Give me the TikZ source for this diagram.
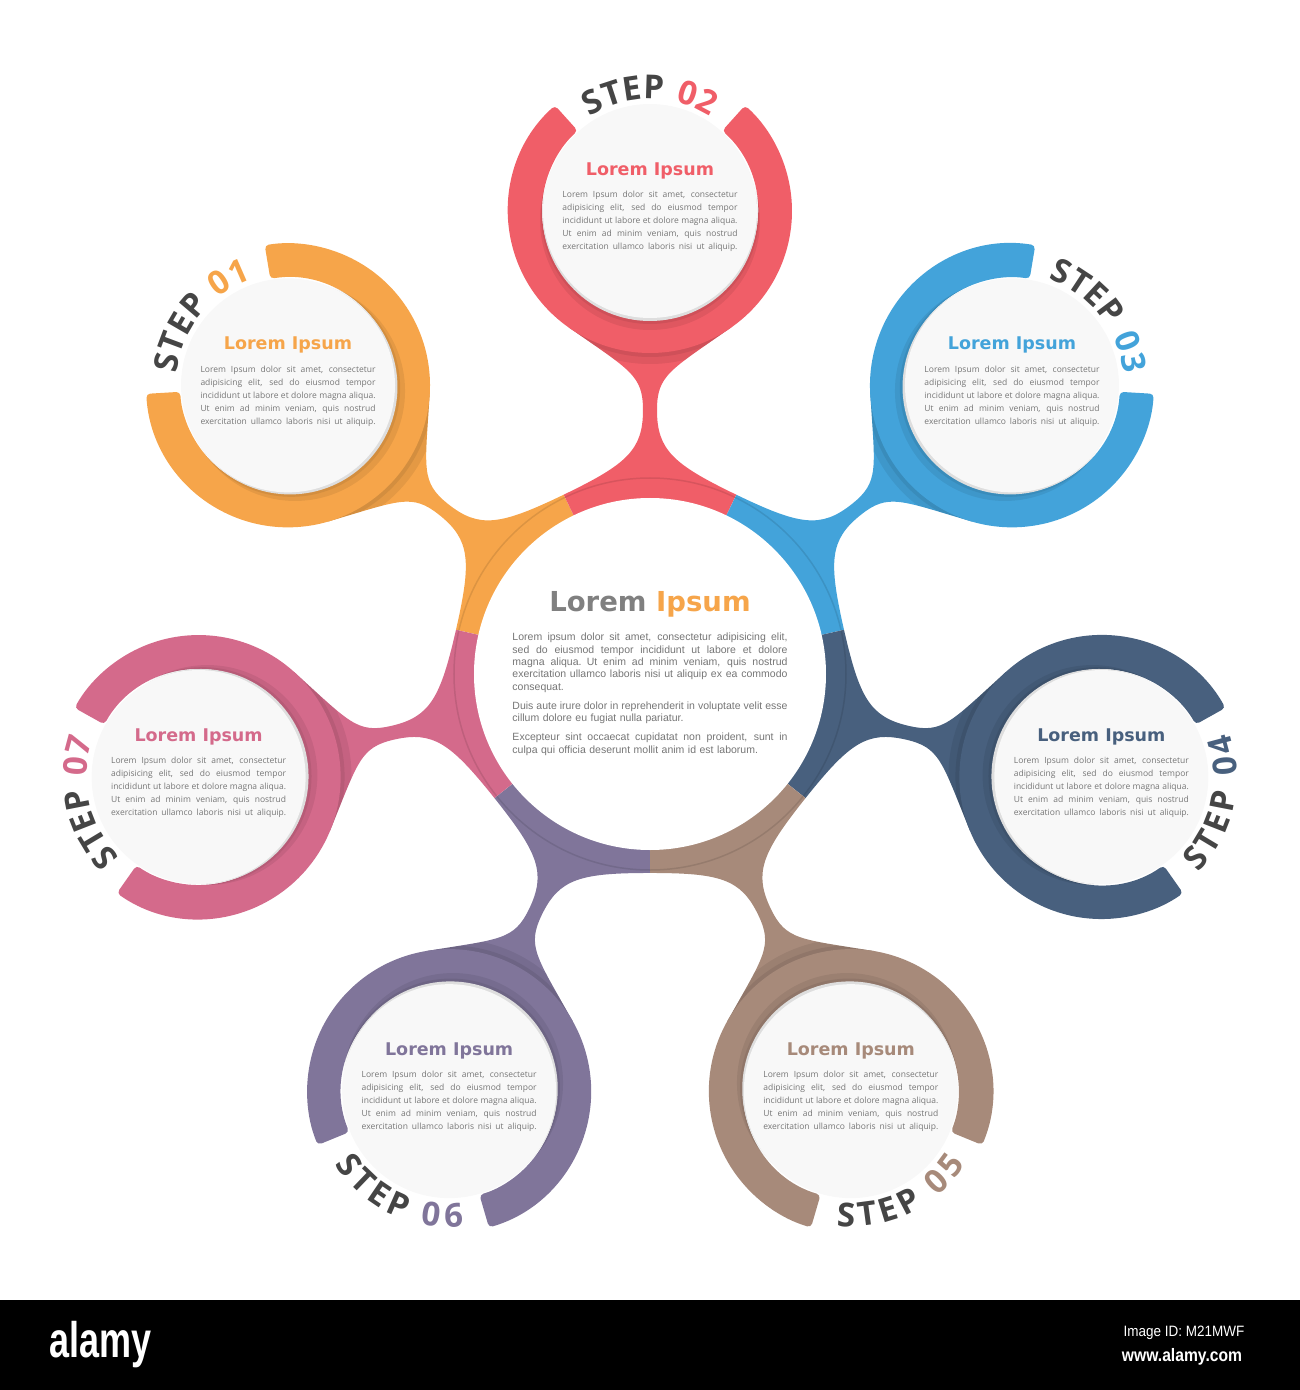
\documentclass[tikz,border=0pt]{standalone}
\usepackage{fontspec}
\newfontfamily\opensans{Open Sans}
\newfontfamily\dejavu{DejaVu Sans}
\newfontfamily\libsans{Liberation Sans}

\definecolor{cOrange}{RGB}{246,165,74}
\definecolor{cRed}{RGB}{240,94,104}
\definecolor{cBlue}{RGB}{67,163,218}
\definecolor{cNavy}{RGB}{72,96,126}
\definecolor{cBrown}{RGB}{167,138,122}
\definecolor{cPurple}{RGB}{128,117,154}
\definecolor{cPink}{RGB}{212,106,139}
\definecolor{stepgray}{RGB}{69,69,69}
\definecolor{bodygray}{RGB}{118,118,118}
\definecolor{hubgray}{RGB}{128,128,128}
\definecolor{diskwhite}{RGB}{248,248,248}

% step number / outward angle / colour / reading direction of the label
\newcommand\steplist{1/141.43/cOrange/1,2/90/cRed/1,3/38.57/cBlue/1,4/-12.86/cNavy/-1,5/-64.29/cBrown/-1,6/-115.71/cPurple/-1,7/-167.14/cPink/1}

% stem from the hub to a satellite, drawn pointing up
\newcommand\stempath{(0,0) -- (86.3,179.3) .. controls (23.2,209.7) and (7,224) .. (7,264) .. controls (7,299) and (20,303.7) .. (81.4,346.7) -- (0,463) -- (-81.4,346.7) .. controls (-20,303.7) and (-7,299) .. (-7,264) .. controls (-7,224) and (-23.2,209.7) .. (-86.3,179.3) -- cycle}
% open ring round a satellite
\newcommand\ringpath{(\a+42:142) arc[start angle=\a+42, end angle=\a+318, radius=142] -- (\a+318:108) arc[start angle=\a+318, end angle=\a+42, radius=108] -- cycle}

% a line spread over the full width
\newcommand\jline[2]{\makebox[#1][s]{\spaceskip=.26em plus 1fil\relax #2}}
\newcommand\satbody{\jline{175pt}{Lorem Ipsum dolor sit amet, consectetur}\\
\jline{175pt}{adipisicing elit, sed do eiusmod tempor}\\
\jline{175pt}{incididunt ut labore et dolore magna aliqua.}\\
\jline{175pt}{Ut enim ad minim veniam, quis nostrud}\\
\jline{175pt}{exercitation ullamco laboris nisi ut aliquip.}}

\begin{document}
\begin{tikzpicture}[x=1pt,y=1pt,
  steptxt/.style={font=\opensans\bfseries\fontsize{33}{33}\selectfont, inner sep=0},
  head/.style={font=\dejavu\bfseries\fontsize{17.5}{19}\selectfont, inner sep=0},
  satbox/.style={font=\opensans\fontsize{8.5}{13}\selectfont, text=bodygray, text width=175pt, align=center, inner sep=0, anchor=north},
  hubbox/.style={font=\libsans\fontsize{10.5}{12.3}\selectfont, text=bodygray, text width=275pt, align=left, inner sep=0, anchor=north},
  disk/.style={circle, inner sep=0, minimum size=#1}]
\useasboundingbox (-650,-716) rectangle (650,674);

% stems
\foreach \n/\a/\col/\dir in \steplist {
  \fill[\col, rotate=\a-90] \stempath;
  \begin{scope}[rotate=\a-90]
    \clip \stempath;
    \fill[black, opacity=.07] (0,456) circle (146);
    \fill[black, opacity=.07] (0,460) circle (143);
  \end{scope}
}

% hub
\node[disk=352pt, fill=white] (hub) at (0,0) {};
\draw[black, opacity=.1, line width=1.5pt] (hub.center) circle (196);
\node[font=\dejavu\bfseries\fontsize{27.5}{30}\selectfont, inner sep=0] (hubtitle) at (0,70)
  {\textcolor{hubgray}{Lorem} \textcolor{cOrange}{Ipsum}};
\node[hubbox] (hubtext) at (0,41) {%
\jline{275pt}{Lorem ipsum dolor sit amet, consectetur adipisicing elit,}\\
\jline{275pt}{sed do eiusmod tempor incididunt ut labore et dolore}\\
\jline{275pt}{magna aliqua. Ut enim ad minim veniam, quis nostrud}\\
\jline{275pt}{exercitation ullamco laboris nisi ut aliquip ex ea commodo}\\
consequat.\\[7pt]
\jline{275pt}{Duis aute irure dolor in reprehenderit in voluptate velit esse}\\
cillum dolore eu fugiat nulla pariatur.\\[7pt]
\jline{275pt}{Excepteur sint occaecat cupidatat non proident, sunt in}\\
culpa qui officia deserunt mollit anim id est laborum.};

% satellites
\foreach \n/\a/\col/\dir in \steplist {
  \begin{scope}[shift={(\a:463)}]
    \fill[\col, rounded corners=4pt] \ringpath;
    \begin{scope}
      \clip \ringpath;
      \fill[black, opacity=.07] (\a+180:9) circle (110);
      \fill[black, opacity=.07] (\a+180:4) circle (109);
    \end{scope}
    \fill[black!13] (\a+180:2.5) circle (107.5);
    \node[disk=214pt, fill=diskwhite] (sat\n) at (0,0) {};
    \node[head, text=\col] (title\n) at (0,40) {Lorem Ipsum};
    \node[satbox] (text\n) at (0,20) {\satbody};
    \foreach \ch/\off in {S/-27.9,T/-18.1,E/-8.5,P/1.8}
      \node[steptxt, text=stepgray, rotate={\a-(\dir)*(\off)-(\dir)*90}] (step\n\ch) at ({\a-(\dir)*(\off)}:124) {\ch};
    \foreach \d/\off [count=\k] in {0/17.7,\n/27.8}
      \node[steptxt, text=\col, rotate={\a-(\dir)*(\off)-(\dir)*90}] (num\n-\k) at ({\a-(\dir)*(\off)}:124) {\d};
  \end{scope}
}

% stock banner
\fill[black] (-650,-716) rectangle (650,-626);
\node[text=white, font=\libsans\bfseries\fontsize{50}{50}\selectfont, inner sep=0, xscale=.72] (logo) at (-549,-671) {alamy};
\node[text=white, font=\libsans\fontsize{15}{15}\selectfont, inner sep=0, xscale=.9] (imgid) at (534,-659) {Image ID: M21MWF};
\node[text=white, font=\libsans\bfseries\fontsize{18}{18}\selectfont, inner sep=0, xscale=.87] (site) at (532,-683) {www.alamy.com};
\end{tikzpicture}
\end{document}
